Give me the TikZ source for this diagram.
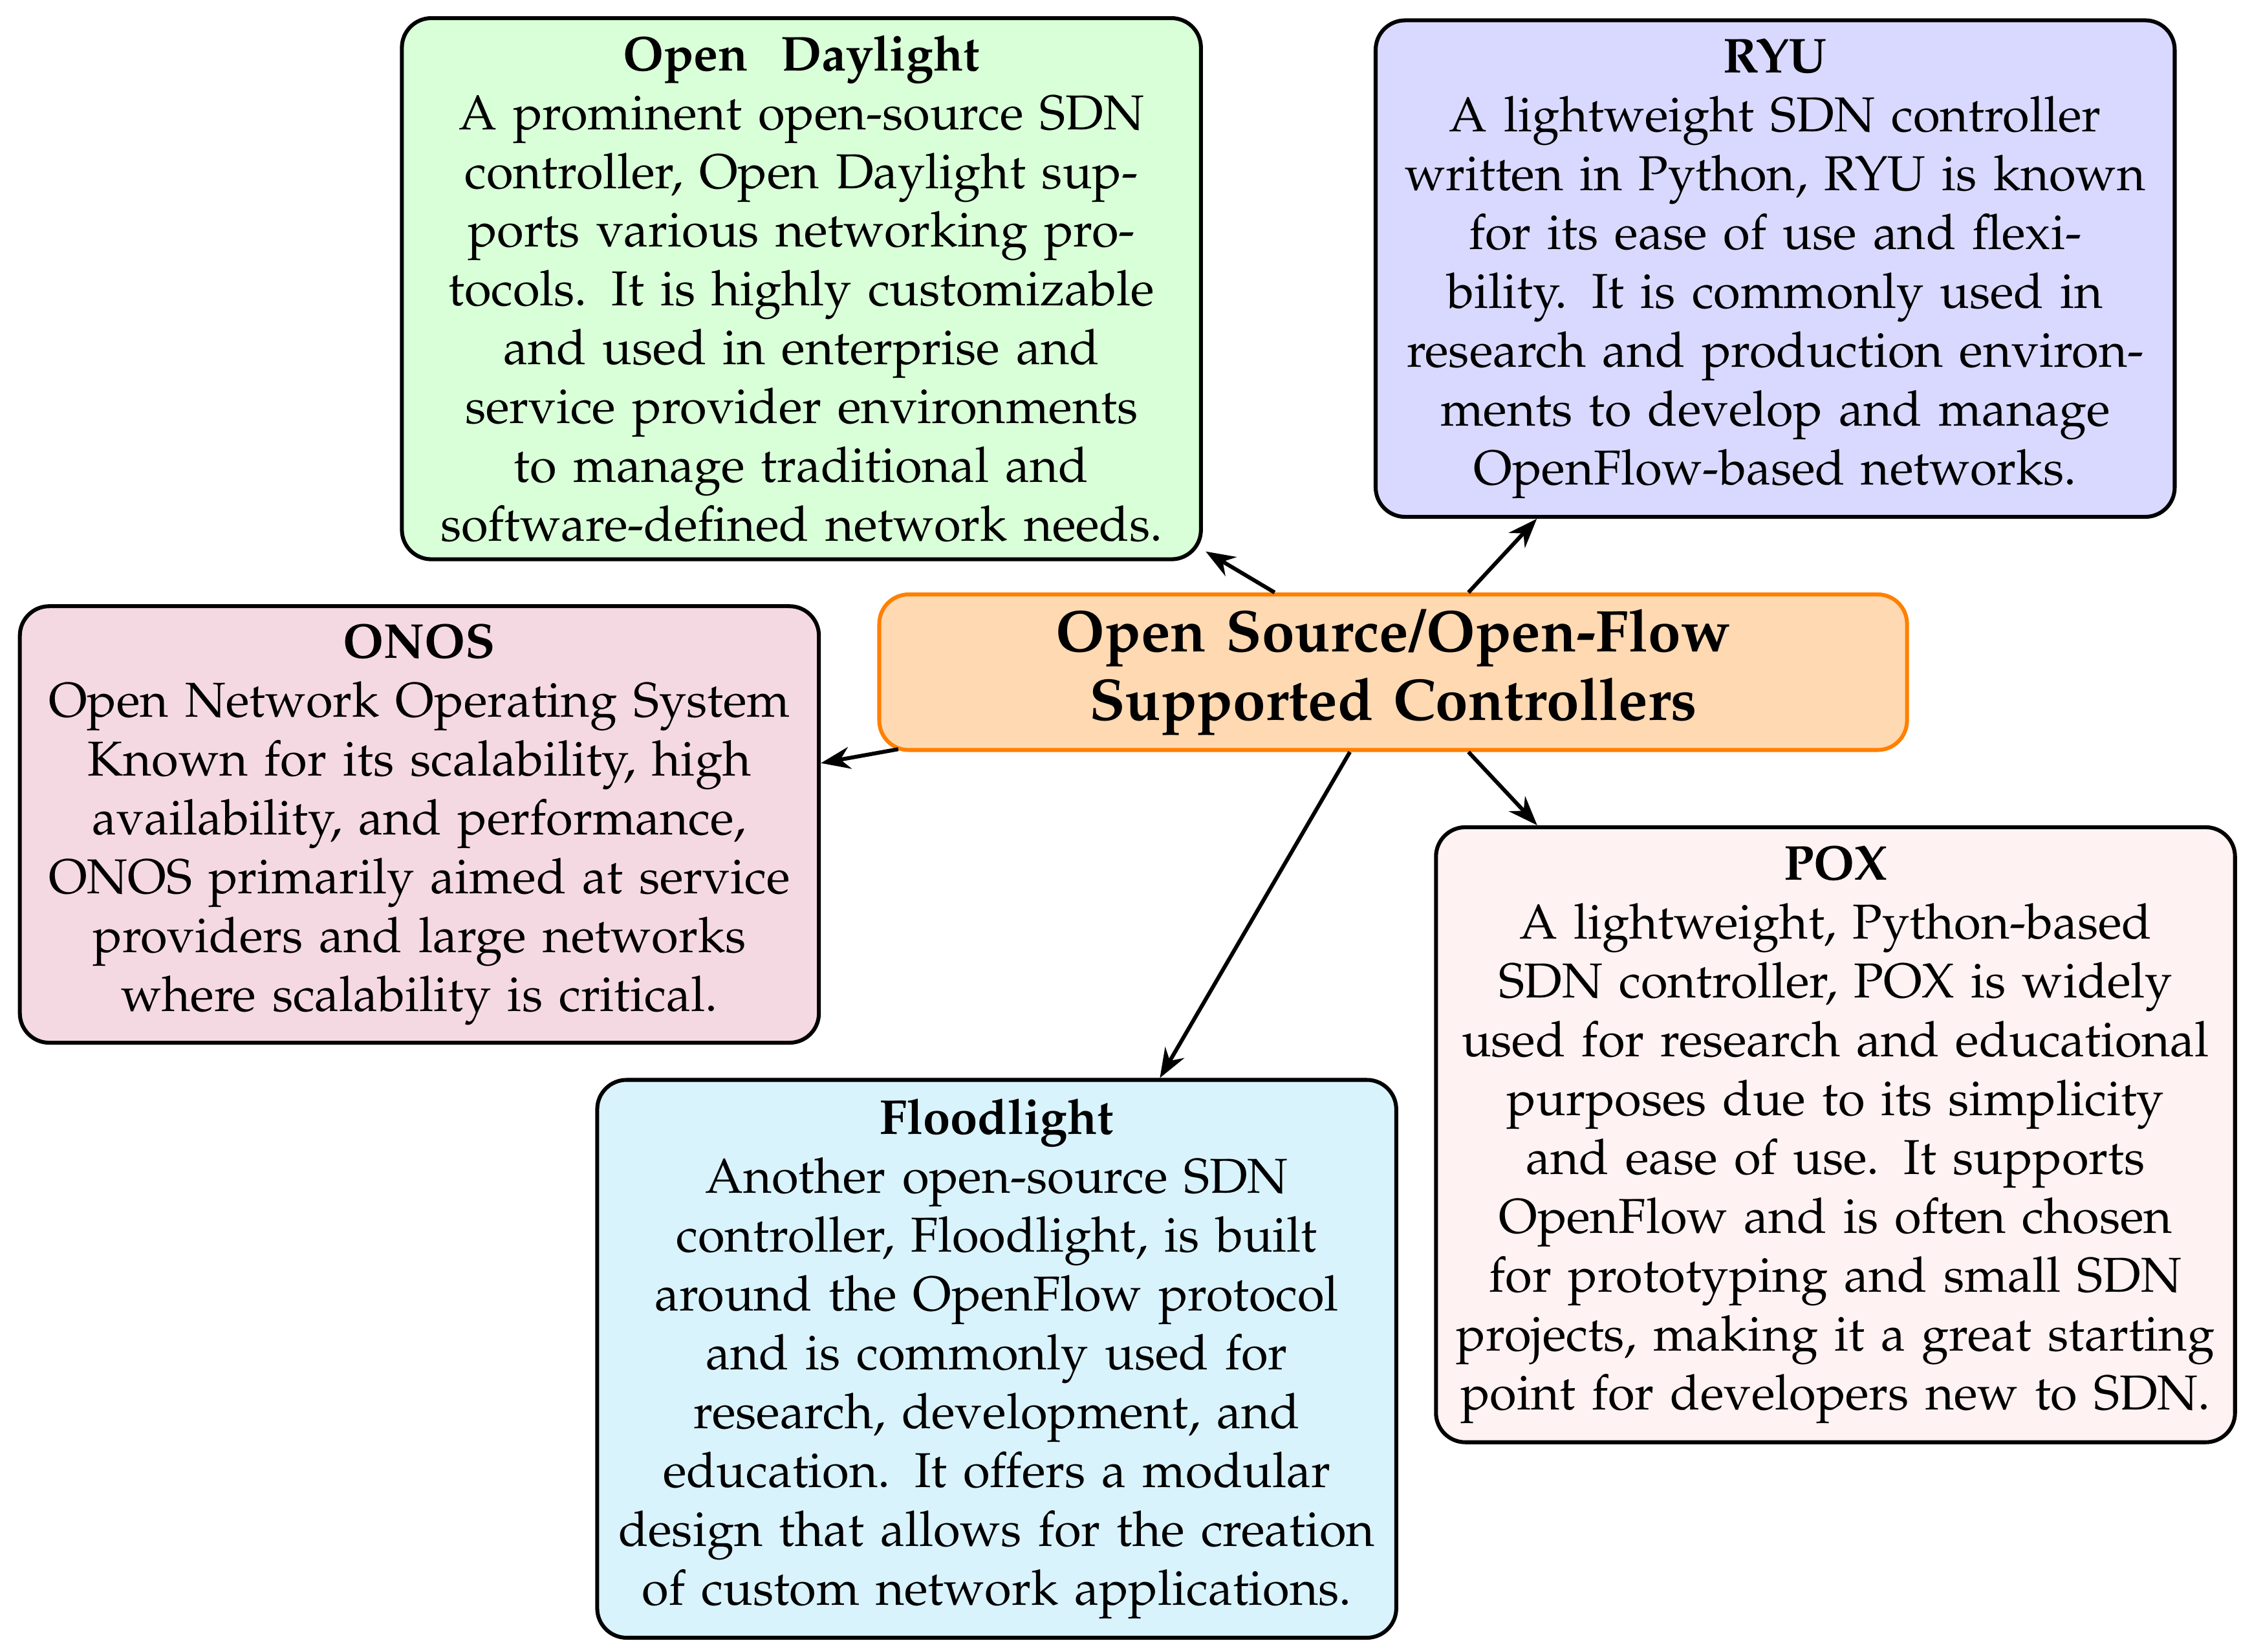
\documentclass[tikz,border=0pt]{standalone}
\usepackage[T1]{fontenc}
\usepackage{mathpazo}
\usetikzlibrary{arrows.meta}
\begin{document}
\begin{tikzpicture}[x=0.0103cm,y=-0.0103cm,
  box/.style={draw,rounded corners=6pt,thick,align=center,text width=5.5cm,
    minimum width=5.73cm,inner sep=3pt,font=\normalsize},
  arr/.style={-{Stealth[length=6pt]},thick}]
\useasboundingbox (0,0) rectangle (1568,1150);
\node[box,fill=orange!30,draw=orange,text width=7cm,minimum width=7.37cm,minimum height=1.09cm,font=\large\bfseries]
  (c) at (970,468) {Open Source/Open-Flow\\Supported Controllers};
\node[box,fill=green!15,minimum height=3.88cm] (dl) at (558,201)
  {\textbf{Open\ \ Daylight}\\A prominent open-source SDN controller, Open Daylight supports various networking protocols. It is highly customizable and used in enterprise and service provider environments to manage traditional and software-defined network needs.};
\node[box,fill=blue!15,minimum height=3.56cm] (ryu) at (1236,187)
  {\textbf{RYU}\\A lightweight SDN controller written in Python, RYU is known for its ease of use and flexibility. It is commonly used in research and production environments to develop and manage OpenFlow-based networks.};
\node[box,fill=purple!15,minimum height=3.13cm] (onos) at (292,574)
  {\textbf{ONOS}\\Open Network Operating System Known for its scalability, high availability, and performance, ONOS primarily aimed at service providers and large networks where scalability is critical.};
\node[box,fill=cyan!15,minimum height=4.0cm] (fl) at (694,946)
  {\textbf{Floodlight}\\Another open-source SDN controller, Floodlight, is built around the OpenFlow protocol and is commonly used for research, development, and education. It offers a modular design that allows for the creation of custom network applications.};
\node[box,fill=red!5,minimum height=4.41cm] (pox) at (1278,790)
  {\textbf{POX}\\A lightweight, Python-based SDN controller, POX is widely used for research and educational purposes due to its simplicity and ease of use. It supports OpenFlow and is often chosen for prototyping and small SDN projects, making it a great starting point for developers new to SDN.};
\draw[arr] ([xshift=-0.85cm]c.north) -- ([xshift=0.02cm,yshift=0.07cm]dl.south east);
\draw[arr] ([xshift=0.54cm]c.north) -- ([xshift=1.17cm]ryu.south west);
\draw[arr] ([xshift=0.15cm,yshift=0.02cm]c.south west) -- ([yshift=0.44cm]onos.east);
\draw[arr] ([xshift=-0.31cm]c.south) -- ([xshift=1.17cm]fl.north);
\draw[arr] ([xshift=0.54cm]c.south) -- ([xshift=0.74cm]pox.north west);
\end{tikzpicture}
\end{document}
